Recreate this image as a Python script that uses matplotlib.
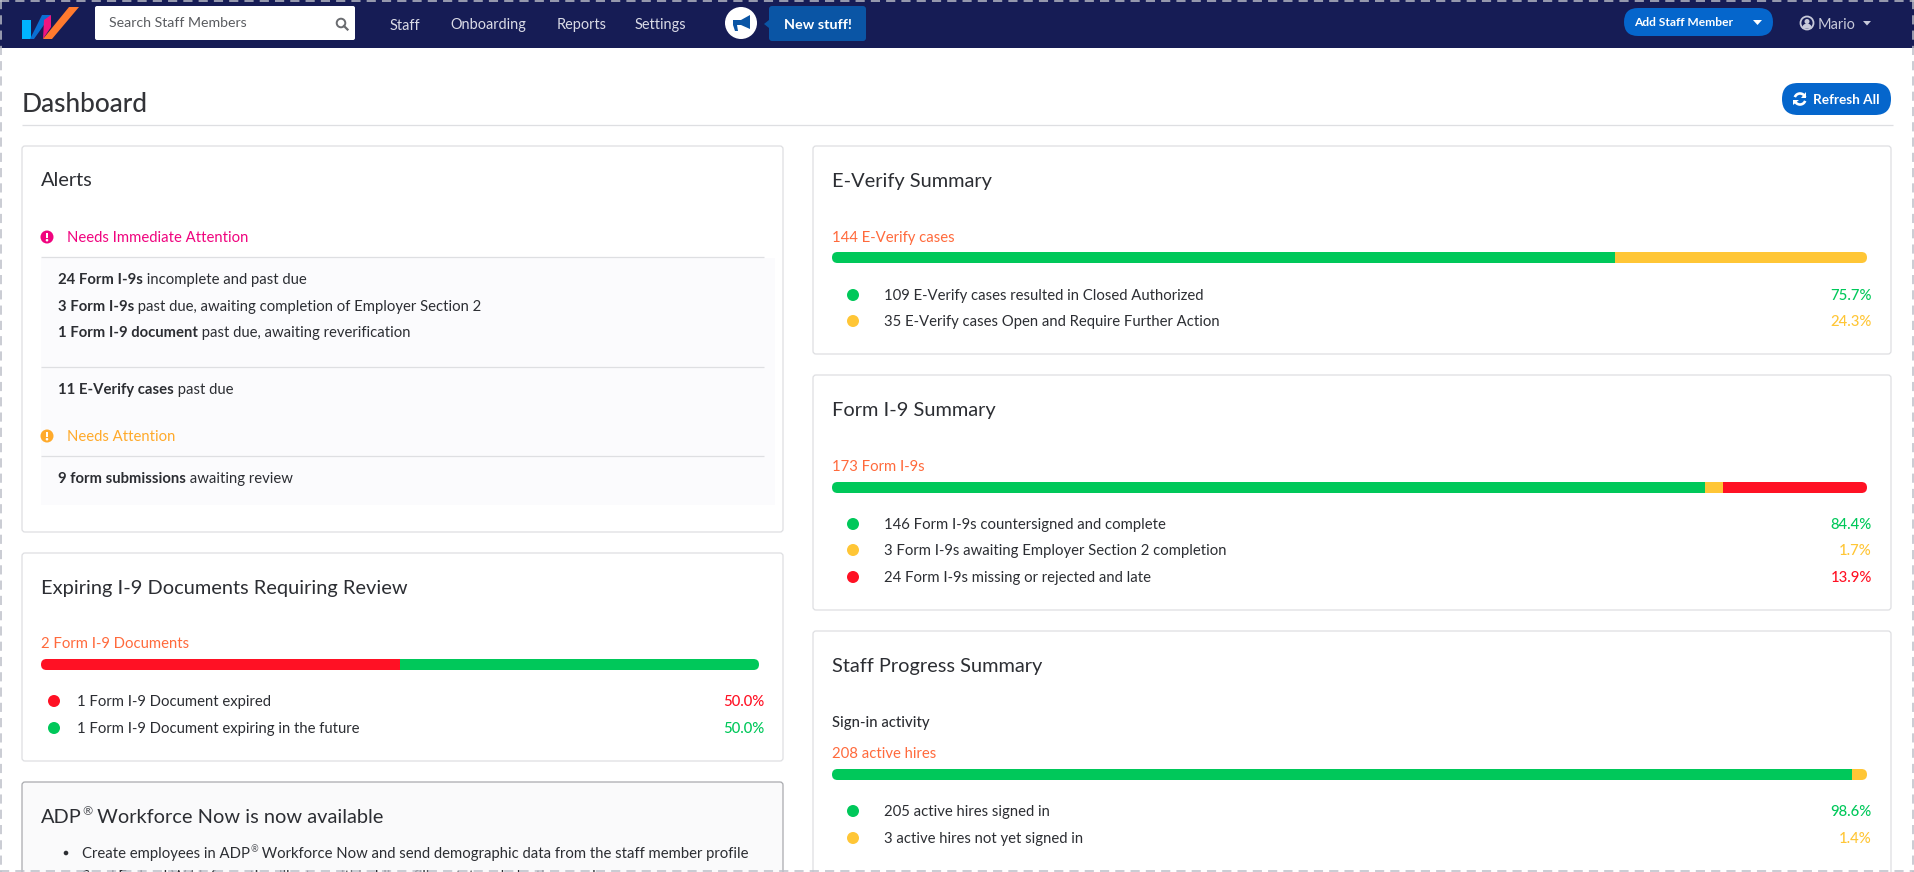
import matplotlib
matplotlib.use("Agg")
import matplotlib.pyplot as plt
from matplotlib.patches import Rectangle, FancyBboxPatch, Circle, Polygon, Arc, Wedge
from matplotlib.transforms import Affine2D

FONT = "Lato"
plt.rcParams["font.family"] = [FONT, "DejaVu Sans"]
W, H = 1915, 872

NAV = "#161C55"; BLUE = "#0566CC"; DARK = "#2C2E33"; ORANGE = "#FF6A3C"
GREEN = "#00C85A"; YELLOW = "#FFC636"; RED = "#FF1124"; PINK = "#F0047F"; AMBER = "#FFAA2B"
EDGE = "#DEDFE2"
BODY = 14.85
TITLE = 20.0

nav_items = ["Staff", "Onboarding", "Reports", "Settings"]
nav_x = [390, 450, 557, 635]

alert_rows = [("24 Form I-9s", " incomplete and past due"),
              ("3 Form I-9s", " past due, awaiting completion of Employer Section 2"),
              ("1 Form I-9 document", " past due, awaiting reverification"),
              ("11 E-Verify cases", " past due"),
              ("9 form submissions", " awaiting review")]

exp_total = "2 Form I-9 Documents"
exp_values = [1, 1]
exp_colors = [RED, GREEN]
exp_labels = ["1 Form I-9 Document expired", "1 Form I-9 Document expiring in the future"]
exp_pct = ["50.0%", "50.0%"]

ev_total = "144 E-Verify cases"
ev_values = [109, 35]
ev_colors = [GREEN, YELLOW]
ev_labels = ["109 E-Verify cases resulted in Closed Authorized",
             "35 E-Verify cases Open and Require Further Action"]
ev_pct = ["75.7%", "24.3%"]

i9_total = "173 Form I-9s"
i9_values = [146, 3, 24]
i9_colors = [GREEN, YELLOW, RED]
i9_labels = ["146 Form I-9s countersigned and complete",
             "3 Form I-9s awaiting Employer Section 2 completion",
             "24 Form I-9s missing or rejected and late"]
i9_pct = ["84.4%", "1.7%", "13.9%"]

st_total = "208 active hires"
st_values = [205, 3]
st_colors = [GREEN, YELLOW]
st_labels = ["205 active hires signed in", "3 active hires not yet signed in"]
st_pct = ["98.6%", "1.4%"]

adp_first = "ADP"
adp_mark = "\u00ae"
adp_title_rest = " Workforce Now is now available"
adp_item_start = "Create employees in ADP"
adp_item_rest = " Workforce Now and send demographic data from the staff member profile"
adp_item_two = "Send Federal W4 information like tax withholding, filing status, deductions and more"

fig = plt.figure(figsize=(W / 100, H / 100), dpi=100, facecolor="white")
ax = fig.add_axes([0, 0, 1, 1])
ax.set_xlim(0, W); ax.set_ylim(H, 0); ax.axis("off")


def px(v):
    return v * 0.72


def T(x, y, s, size=15, color=DARK, weight="normal", ha="left", **kw):
    dy = -1 if size < 18 else -0.5
    return ax.text(x, y + dy, s, fontsize=px(size), color=color, fontweight=weight, ha=ha,
                   va="center_baseline", **kw)


def right_edge(t):
    return t.get_window_extent(fig.canvas.get_renderer()).x1


def R(x0, y0, x1, y1, color, rad=0, edge="none", lw=0, z=1):
    if rad:
        p = FancyBboxPatch((x0 + rad, y0 + rad), x1 - x0 - 2 * rad, y1 - y0 - 2 * rad,
                           boxstyle=f"round,pad={rad},rounding_size={rad}",
                           fc=color, ec=edge, lw=lw, zorder=z)
    else:
        p = Rectangle((x0, y0), x1 - x0, y1 - y0, fc=color, ec=edge, lw=lw, zorder=z)
    ax.add_patch(p)
    return p


def hline(y, x0, x1, color=EDGE, lw=0.9):
    ax.plot([x0, x1], [y, y], color=color, lw=lw, zorder=2, solid_capstyle="butt")


def card(x0, y0, x1, y1, edge=EDGE, fc="white"):
    R(x0, y0, x1, y1, fc, rad=3, edge=edge, lw=0.9)


def stacked(x0, x1, y0, y1, values, colors):
    a = fig.add_axes([x0 / W, 1 - y1 / H, (x1 - x0) / W, (y1 - y0) / H])
    a.set_xlim(0, sum(values)); a.set_ylim(0, 1); a.axis("off")
    left = 0
    bars = []
    for v, c in zip(values, colors):
        bars += list(a.barh(0.5, v, left=left, height=1, color=c, linewidth=0))
        left += v
    tr = Affine2D().translate(x0, H - y1)
    clip = FancyBboxPatch((5.5, 5.5), x1 - x0 - 11, y1 - y0 - 11,
                          boxstyle="round,pad=5.5,rounding_size=5.5", transform=tr)
    for b in bars:
        b.set_clip_path(clip)


def rows(ys, labels, pcts, colors, dot_x, text_x, pct_x):
    for y, l, p, c in zip(ys, labels, pcts, colors):
        ax.add_patch(Circle((dot_x, y), 6, fc=c, ec="none", zorder=3))
        T(text_x, y, l, BODY)
        T(pct_x, y, p, BODY, color=c, ha="right", weight="bold" if False else "medium")


def mixed(x, y, bold, rest, size=BODY):
    t = T(x, y, bold, size, weight="bold")
    T(right_edge(t), y, rest, size)


def with_mark(x, y, first, rest, size):
    t = T(x, y, first, size)
    x1 = right_edge(t) + 0.5
    m = ax.text(x1, y - size * 0.28, adp_mark, fontsize=px(size * 0.62), color="#55575C",
                ha="left", va="center_baseline")
    T(right_edge(m), y, rest, size)


def alert_icon(x, y, color):
    ax.add_patch(Circle((x, y), 6.5, fc=color, ec="none", zorder=3))
    ax.add_patch(Rectangle((x - 1.2, y - 4), 2.4, 5, fc="white", ec="none", zorder=4))
    ax.add_patch(Circle((x, y + 3.2), 1.3, fc="white", ec="none", zorder=4))


# nav bar ----------------------------------------------------------
R(0, 0, W, 48, NAV)
ax.add_patch(Polygon([(22, 20), (31, 20), (31, 39), (22, 39)], fc="#00B4FF", ec="none", zorder=3))
ax.add_patch(Polygon([(30, 39), (34, 39), (51, 15), (42, 15)], fc="#0A6FD2", ec="none", zorder=3))
ax.add_patch(Polygon([(44, 20), (51, 15), (51, 27), (43, 39)], fc="#F0147F", ec="none", zorder=3))
ax.add_patch(Polygon([(43, 39), (52, 39), (79, 7), (69, 7)], fc="#FF7A2E", ec="none", zorder=4))

R(95, 6, 355, 40, "white", rad=2, z=3)
T(109, 23, "Search Staff Members", 14.1, color="#5A5C60", zorder=4)
ax.add_patch(Circle((341, 23), 4.3, fc="none", ec="#6A6C70", lw=1.4, zorder=4))
ax.plot([344, 347.5], [26, 29.5], color="#6A6C70", lw=1.6, zorder=4)

for x, s in zip(nav_x, nav_items):
    T(x, 25, s, 14.5, color="#DADBE6", zorder=4)

ax.add_patch(Circle((741, 23), 16, fc="white", ec="none", zorder=3))
ax.add_patch(Polygon([(733, 20), (741, 20), (750, 15), (750, 29), (741, 25), (737, 25), (738, 31), (735, 31), (733, 25)],
                     fc="#0A55A5", ec="none", zorder=4))
R(769, 6, 866, 41, "#0A55A5", rad=3, z=3)
ax.add_patch(Polygon([(769, 20), (764, 24), (769, 28)], fc="#0A55A5", ec="none", zorder=3))
T(817.5, 25, "New stuff!", 14.4, color="white", ha="center", weight="bold", zorder=4)

R(1624, 8, 1773, 36, BLUE, rad=14, z=3)
T(1634, 23, "Add Staff Member", 12.0, color="white", weight="bold", zorder=4)
ax.add_patch(Polygon([(1753, 20), (1762, 20), (1757.5, 25)], fc="white", ec="none", zorder=4))
ax.add_patch(Circle((1807, 23), 6.5, fc="none", ec="#C8CADA", lw=1.3, zorder=4))
ax.add_patch(Circle((1807, 21.5), 2.5, fc="#C8CADA", ec="none", zorder=4))
ax.add_patch(Wedge((1807, 28.5), 5, 180, 360, fc="#C8CADA", ec="none", zorder=4))
T(1818, 24.5, "Mario", 14.5, color="#C8CADA", zorder=4)
ax.add_patch(Polygon([(1863, 21), (1871, 21), (1867, 25.5)], fc="#C8CADA", ec="none", zorder=4))

# header -------------------------------------------------------------
T(22, 102, "Dashboard", 26.3, color="#333438", weight="medium")
hline(125, 22, 1893)
R(1782, 83, 1891, 115, BLUE, rad=16, z=3)
T(1813, 100, "Refresh All", 13.6, color="white", weight="bold", zorder=4)
ax.add_patch(Arc((1800, 99), 11, 11, theta1=200, theta2=340, ec="white", lw=1.9, zorder=4))
ax.add_patch(Arc((1800, 99), 11, 11, theta1=20, theta2=160, ec="white", lw=1.9, zorder=4))
ax.add_patch(Polygon([(1806.5, 92.5), (1806.5, 98), (1801, 98)], fc="white", ec="none", zorder=4))
ax.add_patch(Polygon([(1793.5, 105.5), (1793.5, 100), (1799, 100)], fc="white", ec="none", zorder=4))

# alerts --------------------------------------------------------------
card(22, 146, 783, 532)
R(41, 258, 775, 505, "#FBFBFD", z=1.5)
T(41, 179, "Alerts", TITLE)
alert_icon(47, 237, PINK)
T(67, 237, "Needs Immediate Attention", BODY, color=PINK)
hline(257, 41, 764)
hline(367, 41, 764)
for y, (b, r) in zip([279, 306, 332, 389, 478], alert_rows):
    mixed(58, y, b, r)
alert_icon(47, 436, AMBER)
T(67, 436, "Needs Attention", BODY, color=AMBER)
hline(456, 41, 764)

# expiring -------------------------------------------------------------
card(22, 553, 783, 761)
T(41, 587, "Expiring I-9 Documents Requiring Review", TITLE)
T(41, 643, exp_total, BODY, color=ORANGE)
stacked(41, 759, 659, 670, exp_values, exp_colors)
rows([701, 728], exp_labels, exp_pct, exp_colors, 54, 77, 764)

# ADP ---------------------------------------------------------------------
card(22, 782, 783, 900, edge="#A9AAAE", fc="#FAFAFB")
with_mark(41, 816, adp_first, adp_title_rest, TITLE)
ax.add_patch(Circle((66, 853), 2.3, fc=DARK, ec="none", zorder=3))
with_mark(82, 853, adp_item_start, adp_item_rest, BODY)
ax.add_patch(Circle((66, 875), 2.3, fc=DARK, ec="none", zorder=3))
T(82, 876, adp_item_two, BODY)

# right column ----------------------------------------------------------
card(813, 146, 1891, 354)
T(832, 180, "E-Verify Summary", TITLE)
T(832, 237, ev_total, BODY, color=ORANGE)
stacked(832, 1867, 252, 263, ev_values, ev_colors)
rows([295, 321], ev_labels, ev_pct, ev_colors, 853, 884, 1872)

card(813, 375, 1891, 610)
T(832, 409, "Form I-9 Summary", TITLE)
T(832, 466, i9_total, BODY, color=ORANGE)
stacked(832, 1867, 482, 493, i9_values, i9_colors)
rows([524, 550, 577], i9_labels, i9_pct, i9_colors, 853, 884, 1872)

card(813, 631, 1891, 900)
T(832, 665, "Staff Progress Summary", TITLE)
T(832, 722, "Sign-in activity", BODY, weight="medium")
T(832, 753, st_total, BODY, color=ORANGE)
stacked(832, 1867, 769, 780, st_values, st_colors)
rows([811, 838], st_labels, st_pct, st_colors, 853, 884, 1872)

# dashed capture frame -----------------------------------------------------
dash = dict(color="#BCBEC8", lw=1.1, ls=(0, (6, 4)), zorder=8)
ax.plot([0, W], [0.8, 0.8], **dash)
ax.plot([0, W], [H - 1, H - 1], **dash)
ax.plot([0.8, 0.8], [0, H], **dash)
ax.plot([W - 1.5, W - 1.5], [0, H], **dash)

fig.savefig("out.png", dpi=100, facecolor="white")
